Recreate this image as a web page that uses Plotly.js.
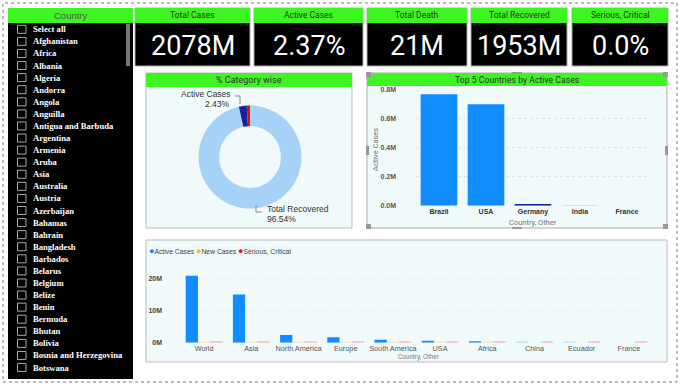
<!DOCTYPE html>
<html><head><meta charset="utf-8">
<script src="https://cdn.plot.ly/plotly-3.0.1.min.js"></script>
<style>body{margin:0;padding:0;background:#fff}#chart{width:680px;height:387px}</style>
</head><body><div id="chart"></div>
<script>
// ---------- DATA ----------
const countryList = ['Select all','Afghanistan','Africa','Albania','Algeria','Andorra','Angola','Anguilla','Antigua and Barbuda','Argentina','Armenia','Aruba','Asia','Australia','Austria','Azerbaijan','Bahamas','Bahrain','Bangladesh','Barbados','Belarus','Belgium','Belize','Benin','Bermuda','Bhutan','Bolivia','Bosnia and Herzegovina','Botswana'];
const kpiTitles = ['Total Cases','Active Cases','Total Death','Total Recovered','Serious, Critical'];
const kpiValues = ['2078M','2.37%','21M','1953M','0.0%'];
const pieLabels = ['Total Recovered','Active Cases','Total Death'];
const pieValues = [96.54, 2.43, 1.03];
const topCountries = ['Brazil','USA','Germany','India','France'];
const topActive = [0.768, 0.699, 0.012, 0.005, 0];   // millions
const regions = ['World','Asia','North America','Europe','South America','USA','Africa','China','Ecuador','France'];
const regActive = [20.8, 15.0, 2.4, 1.7, 0.93, 0.6, 0.45, 0.35, 0.35, 0];   // millions
const regNew = [0.35, 0.35, 0.35, 0.35, 0.35, 0.35, 0.35, 0, 0, 0];
const regSerious = [0.35, 0.35, 0.35, 0.35, 0.35, 0.35, 0.35, 0.35, 0.35, 0.35];

// ---------- helpers ----------
const W = 680, H = 387;
const X = p => p / W, Y = p => 1 - p / H;
const GREEN = '#3CF521', PANEL = '#F0FAFA';
const shapes = [], ann = [];
function rect(x0, y0, x1, y1, fill, line, lw, dash) {
  shapes.push({type:'rect', xref:'paper', yref:'paper', x0:X(x0), x1:X(x1), y0:Y(y1), y1:Y(y0),
    fillcolor: fill || 'rgba(0,0,0,0)', line:{color: line || 'rgba(0,0,0,0)', width: lw || 0, dash: dash || 'solid'}, layer:'below'});
}
function text(t, x, y, size, color, family, xanchor, weight) {
  ann.push({text:t, xref:'paper', yref:'paper', x:X(x), y:Y(y), xanchor:xanchor||'center', yanchor:'middle',
    showarrow:false, font:{size:size, color:color, family:family||'Roboto', weight: weight||'normal'}});
}
function path(pts, color) {
  let d = pts.map((p,i) => (i? 'L ':'M ') + X(p[0]) + ' ' + Y(p[1])).join(' ');
  shapes.push({type:'path', xref:'paper', yref:'paper', path:d, line:{color:color, width:1}});
}

// page border
rect(3, 3, 677, 382, null, '#777', 1, 'dot');

// country slicer
rect(8, 8, 133, 379, '#000');
rect(8, 8, 133, 23, GREEN);
text('Country', 70.5, 15.5, 9.5, '#555', 'Liberation Sans');
rect(126, 24, 130, 66, '#777');
countryList.forEach((c, i) => {
  const cy = 29.3 + i * 12.08;
  rect(17.5, cy - 4, 26, cy + 4, null, '#aaa', 1);
  text(c, 31, cy, 8.6, '#fff', 'Liberation Serif', 'left', 'bold');
});

// KPI cards
const cards = [[135,250],[254,363],[367,467],[471,567],[572,668]];
cards.forEach((c, i) => {
  rect(c[0], 8, c[1], 66, '#000', '#aaa', 1);
  rect(c[0], 8, c[1], 23, GREEN);
  text(kpiTitles[i], (c[0]+c[1])/2, 15.5, 8.5, '#333', 'Roboto');
  text(kpiValues[i], (c[0]+c[1])/2, 45.5, 27, '#fff', 'Roboto');
});

// donut panel
rect(146, 73, 352, 228, PANEL, '#bbb', 1);
rect(146, 73, 352, 87, GREEN);
text('% Category wise', 249, 80, 9, '#333', 'Roboto');
text('Active Cases', 233, 94.3, 8.5, '#333', 'Liberation Sans', 'right');
text('2.43%', 232, 104, 8.5, '#333', 'Liberation Sans', 'right');
text('Total Recovered', 264.5, 209, 8.5, '#333', 'Liberation Sans', 'left');
text('96.54%', 264.5, 219, 8.5, '#333', 'Liberation Sans', 'left');
path([[235,96],[240,96],[240,104]], '#888');
path([[256,205],[256,212],[262,212]], '#888');

// top 5 panel
rect(367, 73, 667, 228, PANEL, '#aaa', 1);
rect(367, 73, 667, 86, GREEN);
text('Top 5 Countries by Active Cases', 517, 79.5, 8.7, '#333', 'Roboto');
text('Active Cases', 375, 150, 7.5, '#777', 'Roboto');
ann[ann.length-1].textangle = -90;
text('Country, Other', 533, 222.5, 7.5, '#777', 'Roboto');
// selection handles
[[366,72,371,77],[663,72,668,77],[366,224,371,229],[663,224,668,229],[366,146,369,155],[665,146,668,155],[512,72,522,74],[512,227,522,229]]
  .forEach(h => rect(h[0],h[1],h[2],h[3],'#999'));

// bottom panel
rect(146, 240, 667, 362, PANEL, '#bbb', 1);
ann.push({text:'<span style="color:#118DFF;font-size:9px">●</span>Active Cases <span style="color:#F2C80F;font-size:9px">●</span>New Cases <span style="color:#E8112D;font-size:9px">●</span>Serious, Critical',
  xref:'paper', yref:'paper', x:X(147), y:Y(251), xanchor:'left', yanchor:'middle', showarrow:false,
  font:{size:6.8, color:'#444', family:'Liberation Sans'}});
text('Country, Other', 418, 357, 6.3, '#777', 'Liberation Sans');

// ---------- TRACES ----------
const traces = [
  {type:'pie', labels:pieLabels, values:pieValues, sort:false, direction:'clockwise', rotation:0, hole:0.6,
   marker:{colors:['#A6D2F8','#12239E','#FF0000'], line:{width:0}}, textinfo:'none', hoverinfo:'none',
   showlegend:false, domain:{x:[X(198.5), X(301.5)], y:[Y(208.5), Y(105.5)]}},
  {type:'bar', x:topCountries, y:topActive, xaxis:'x', yaxis:'y', showlegend:false,
   marker:{color:['#118DFF','#118DFF','#12239E','#A8D3FA','#E66C37']}, hoverinfo:'none'},
  {type:'bar', name:'Active Cases', x:regions, y:regActive, xaxis:'x2', yaxis:'y2', showlegend:false,
   marker:{color:regions.map((r,i) => regActive[i] < 0.4 ? '#A9D6FA' : '#118DFF')}, hoverinfo:'none'},
  {type:'bar', name:'New Cases', x:regions, y:regNew, xaxis:'x2', yaxis:'y2', showlegend:false,
   marker:{color:'#F5E3A0'}, hoverinfo:'none'},
  {type:'bar', name:'Serious, Critical', x:regions, y:regSerious, xaxis:'x2', yaxis:'y2', showlegend:false,
   marker:{color:'#EFA9A9'}, hoverinfo:'none'}
];

const layout = {
  width:W, height:H, margin:{l:0,r:0,t:0,b:0}, paper_bgcolor:'#fff', plot_bgcolor:'rgba(0,0,0,0)',
  showlegend:false, barmode:'group', bargap:0.22, bargroupgap:0,
  xaxis:{domain:[X(415.5), X(650.5)], anchor:'y', type:'category', showgrid:false, zeroline:false, showline:false,
    ticks:'', ticklen:0,
    tickfont:{size:7, color:'#333', family:'Liberation Sans', weight:'bold'}},
  yaxis:{domain:[Y(205.7), Y(89.7)], anchor:'x', range:[0,0.8], dtick:0.2, tickformat:'.1f', ticksuffix:'M',
    showgrid:true, gridcolor:'#dde6e6', griddash:'dot', zeroline:false, showline:false,
    ticks:'outside', ticklen:17, tickcolor:'rgba(0,0,0,0)',
    tickfont:{size:7, color:'#555', family:'Liberation Sans', weight:'bold'}},
  xaxis2:{domain:[X(180.5), X(652.5)], anchor:'y2', type:'category', showgrid:false, zeroline:false, showline:false,
    ticks:'', ticklen:0,
    tickfont:{size:7.3, color:'#555', family:'Liberation Sans'}},
  yaxis2:{domain:[Y(342.7), Y(342.7-22*3.22)], anchor:'x2', range:[0,22], tickvals:[0,10,20], ticktext:['0M','10M','20M'],
    showgrid:true, gridcolor:'#e3eded', griddash:'dot', zeroline:false, showline:false,
    ticks:'outside', ticklen:16, tickcolor:'rgba(0,0,0,0)',
    tickfont:{size:7, color:'#444', family:'Liberation Sans', weight:'bold'}},
  shapes:shapes, annotations:ann
};
Plotly.newPlot('chart', traces, layout, {staticPlot:true, displayModeBar:false});
</script></body></html>
